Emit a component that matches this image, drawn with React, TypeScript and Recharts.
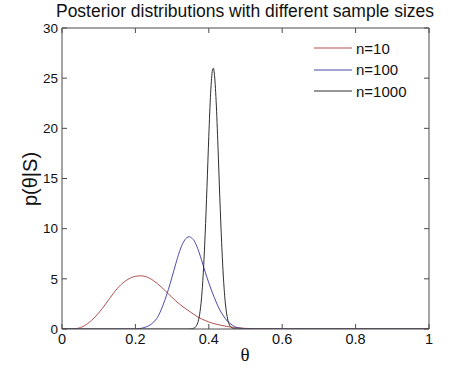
import React from 'react';
import { LineChart, Line, XAxis, YAxis, Legend } from 'recharts';

const xTicks = [0, 0.2, 0.4, 0.6, 0.8, 1];
const yTicks = [0, 5, 10, 15, 20, 25, 30];

const thetaN10 = [0, 0.02, 0.04, 0.06, 0.08, 0.1, 0.12, 0.14, 0.16, 0.18, 0.2, 0.215, 0.23, 0.25, 0.27, 0.29, 0.31, 0.33, 0.35, 0.37, 0.39, 0.41, 0.43, 0.45, 0.47, 0.5, 0.55, 0.6, 0.8, 1.0];
const densityN10 = [0, 0, 0.05, 0.3, 0.85, 1.6, 2.55, 3.55, 4.4, 4.95, 5.25, 5.3, 5.2, 4.8, 4.2, 3.5, 2.8, 2.2, 1.7, 1.2, 0.85, 0.58, 0.4, 0.25, 0.15, 0.06, 0.01, 0, 0, 0];

const thetaN100 = [0, 0.2, 0.21, 0.22, 0.23, 0.24, 0.25, 0.26, 0.27, 0.28, 0.29, 0.3, 0.31, 0.32, 0.33, 0.34, 0.347, 0.35, 0.36, 0.37, 0.38, 0.39, 0.4, 0.41, 0.42, 0.43, 0.44, 0.45, 0.46, 0.47, 0.48, 0.5, 0.52, 1.0];
const densityN100 = [0, 0, 0.03, 0.1, 0.22, 0.4, 0.7, 1.15, 1.9, 2.85, 3.95, 5.2, 6.5, 7.7, 8.6, 9.1, 9.2, 9.15, 8.8, 8.0, 6.9, 5.7, 4.6, 3.6, 2.7, 1.9, 1.3, 0.8, 0.5, 0.25, 0.12, 0.03, 0, 0];

const thetaN1000 = [0, 0.34, 0.35, 0.36, 0.365, 0.37, 0.375, 0.38, 0.385, 0.39, 0.395, 0.4, 0.405, 0.41, 0.4125, 0.415, 0.42, 0.425, 0.43, 0.435, 0.44, 0.445, 0.45, 0.455, 0.46, 0.47, 0.48, 1.0];
const densityN1000 = [0, 0, 0.01, 0.09, 0.25, 0.63, 1.46, 3.0, 5.6, 9.4, 14.1, 19.2, 23.5, 25.8, 26.0, 25.5, 22.7, 18.2, 13.1, 8.6, 5.0, 2.6, 1.23, 0.52, 0.2, 0.03, 0, 0];

const seriesNames = ['n=10', 'n=100', 'n=1000'];
const seriesColors = ['#b45050', '#4a4aaa', '#2e2e2e'];

const toPoints = (xs: number[], ys: number[]) => xs.map((x, i) => ({ x, y: ys[i] }));

const dataN10 = toPoints(thetaN10, densityN10);
const dataN100 = toPoints(thetaN100, densityN100);
const dataN1000 = toPoints(thetaN1000, densityN1000);

const FONT = '"Liberation Sans", Arial, Helvetica, sans-serif';
const AXIS = '#4a4a4a';

const legendContent = () => (
  <div style={{ fontFamily: FONT }}>
    {seriesNames.map((name, i) => (
      <div key={name} style={{ display: 'flex', alignItems: 'center', height: 21.5 }}>
        <svg width={38} height={4} style={{ display: 'block' }}>
          <line x1={0} y1={2} x2={38} y2={2} stroke={seriesColors[i]} strokeWidth={1} />
        </svg>
        <span style={{ marginLeft: 4, fontSize: 15, color: '#111', lineHeight: '15px' }}>{name}</span>
      </div>
    ))}
  </div>
);

export default function App() {
  const xTickStyle = { fill: '#111', fontSize: 14.5, fontFamily: FONT };
  const yTickStyle = { fill: '#111', fontSize: 13.5, fontFamily: FONT };
  return (
    <div style={{ position: 'absolute', left: 0, top: 0, width: 474, height: 370, background: '#fff', fontFamily: FONT }}>
      <div style={{ position: 'absolute', left: 0, top: 2.5, width: 490, textAlign: 'center', fontSize: 17.5, lineHeight: '17.5px', color: '#111', whiteSpace: 'nowrap' }}>
        Posterior distributions with different sample sizes
      </div>
      <div style={{ position: 'absolute', left: 225, top: 345, width: 40, textAlign: 'center', fontSize: 19, lineHeight: '19px', fontFamily: '"Liberation Serif", "Times New Roman", serif', color: '#111' }}>
        θ
      </div>
      <div style={{ position: 'absolute', left: -20, top: 168, width: 100, textAlign: 'center', fontSize: 20, lineHeight: '22px', color: '#111', transform: 'rotate(-90deg)', whiteSpace: 'nowrap' }}>
        p(θ|S)
      </div>
      <LineChart width={474} height={370} margin={{ top: 27, right: 44, bottom: 11, left: 32 }}>
        <XAxis xAxisId="b" dataKey="x" type="number" domain={[0, 1]} ticks={xTicks} orientation="bottom" height={30}
          tickSize={-5} tickMargin={10} stroke={AXIS} tick={xTickStyle} allowDataOverflow interval={0} />
        <XAxis xAxisId="t" dataKey="x" type="number" domain={[0, 1]} ticks={xTicks} orientation="top" height={1}
          tickSize={-5} stroke={AXIS} tickFormatter={() => ''} allowDataOverflow interval={0} />
        <YAxis yAxisId="l" type="number" domain={[0, 30]} ticks={yTicks} orientation="left" width={30}
          tickSize={-5} tickMargin={9} stroke={AXIS} tick={yTickStyle} allowDataOverflow interval={0} />
        <YAxis yAxisId="r" type="number" domain={[0, 30]} ticks={yTicks} orientation="right" width={1}
          tickSize={-5} stroke={AXIS} tickFormatter={() => ''} allowDataOverflow interval={0} />
        <Line xAxisId="b" yAxisId="l" data={dataN10} dataKey="y" name={seriesNames[0]} type="monotone"
          stroke={seriesColors[0]} strokeWidth={1} dot={false} isAnimationActive={false} />
        <Line xAxisId="b" yAxisId="l" data={dataN100} dataKey="y" name={seriesNames[1]} type="monotone"
          stroke={seriesColors[1]} strokeWidth={1} dot={false} isAnimationActive={false} />
        <Line xAxisId="b" yAxisId="l" data={dataN1000} dataKey="y" name={seriesNames[2]} type="monotone"
          stroke={seriesColors[2]} strokeWidth={1} dot={false} isAnimationActive={false} />
        <Legend layout="horizontal" verticalAlign="middle" align="center" content={legendContent}
          wrapperStyle={{ left: 314, top: 37.5, width: 120, height: 66 }} />
      </LineChart>
    </div>
  );
}
